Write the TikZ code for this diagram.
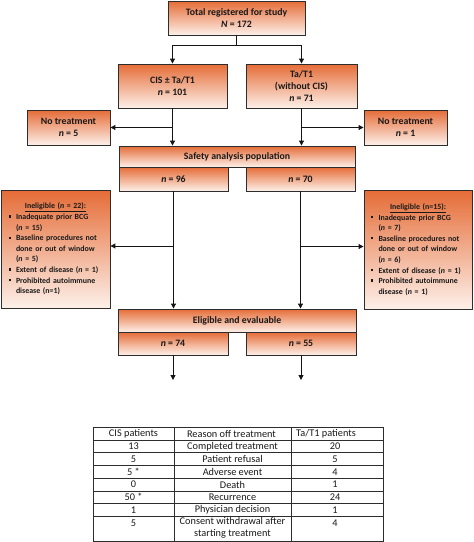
\documentclass[tikz,border=0pt]{standalone}
\usepackage{fontspec}
\setmainfont{Carlito}
\usetikzlibrary{arrows.meta}
\definecolor{boxtop}{RGB}{229,108,55}
\definecolor{boxbot}{RGB}{253,240,233}
\definecolor{edge}{RGB}{45,45,45}
\definecolor{arr}{RGB}{20,20,20}
\definecolor{txt}{RGB}{25,25,25}
\newcommand{\bitem}[1]{\par\hangindent=10pt\hangafter=1\noindent\makebox[10pt][l]{\hspace{2.5pt}\rule[1.8pt]{2.4pt}{2.4pt}}#1}
\tikzset{
  fbox/.style={draw=edge, line width=0.9pt, top color=boxtop, bottom color=boxbot,
    inner sep=0pt, align=center, text=txt, font=\fontsize{9.8}{12}\selectfont\bfseries},
  inelbox/.style={fbox, text width=99pt, align=left, font=\fontsize{7.9}{10.6}\selectfont\bfseries},
  conn/.style={draw=arr, line width=1pt},
  arrowed/.style={conn, -{Triangle[length=5pt,width=5pt]}},
  grid/.style={draw=edge, line width=0.75pt},
  cell/.style={inner sep=0pt, text=txt, font=\fontsize{10.3}{12.6}\selectfont, align=center}
}
\begin{document}
\begin{tikzpicture}[x=1pt,y=-1pt]
\useasboundingbox (0,0) rectangle (474,542);
% boxes
\node[fbox, minimum width=137pt, minimum height=34pt] (total) at (236.5,18) {Total registered for study\\\textit{N} = 172};
\node[fbox, minimum width=109pt, minimum height=44pt] (cis) at (172.5,86) {CIS ± Ta/T1\\\textit{n} = 101};
\node[fbox, minimum width=111pt, minimum height=44pt] (ta) at (301.5,86) {Ta/T1\\(without CIS)\\\textit{n} = 71};
\node[fbox, minimum width=83pt, minimum height=35pt] (notl) at (68.5,127.5) {No treatment\\\textit{n} = 5};
\node[fbox, minimum width=83pt, minimum height=35pt] (notr) at (405.5,127.5) {No treatment\\\textit{n} = 1};
\node[fbox, minimum width=236pt, minimum height=21pt] (safety) at (237,156.5) {Safety analysis population};
\node[fbox, minimum width=109pt, minimum height=24pt] (n96) at (173.5,179) {\textit{n} = 96};
\node[fbox, minimum width=109pt, minimum height=24pt] (n70) at (300.5,179) {\textit{n} = 70};
\node[inelbox, minimum width=109pt, minimum height=118pt] (inell) at (55.5,249) {%
\makebox[\linewidth]{\underline{Ineligible (\textit{n} = 22):}}
\bitem{Inadequate prior BCG\newline(\textit{n} = 15)}
\bitem{Baseline procedures not\newline done or out of window\newline(\textit{n} = 5)}
\bitem{Extent of disease (\textit{n} = 1)}
\bitem{Prohibited autoimmune\newline disease (n=1)}\par\vskip 5pt};
\node[inelbox, minimum width=108pt, minimum height=119pt] (inelr) at (418,249.5) {%
\makebox[\linewidth]{\underline{Ineligible (n=15):}}
\bitem{Inadequate prior BCG\newline(\textit{n} = 7)}
\bitem{Baseline procedures not\newline done or out of window\newline(\textit{n} = 6)}
\bitem{Extent of disease (\textit{n} = 1)}
\bitem{Prohibited autoimmune\newline disease (\textit{n} = 1)}\par\vskip 5pt};
\node[fbox, minimum width=238pt, minimum height=23pt] (elig) at (237,320.5) {Eligible and evaluable};
\node[fbox, minimum width=110pt, minimum height=23pt] (n74) at (173,343.5) {\textit{n} = 74};
\node[fbox, minimum width=110pt, minimum height=23pt] (n55) at (301,343.5) {\textit{n} = 55};
% connectors
\coordinate (jt) at (236.5,45);
\coordinate (e1) at (173,380);
\coordinate (e2) at (301,380);
\coordinate (il) at ([yshift=3pt]inell.east);
\coordinate (ir) at ([yshift=3pt]inelr.west);
\draw[conn] (total.south) -- (jt);
\draw[arrowed] (jt) -| (cis.north);
\draw[arrowed] (jt) -| (ta.north);
\draw[arrowed] (cis.south) -- (cis.south |- safety.north);
\draw[arrowed] (cis.south |- notl.east) -- (notl.east);
\draw[arrowed] (ta.south) -- (ta.south |- safety.north);
\draw[arrowed] (ta.south |- notr.west) -- (notr.west);
\draw[arrowed] (n96.south) -- (n96.south |- elig.north);
\draw[arrowed] (n96.south |- il) -- (il);
\draw[arrowed] (n70.south) -- (n70.south |- elig.north);
\draw[arrowed] (n70.south |- ir) -- (ir);
\draw[arrowed] (n74.south) -- (e1);
\draw[arrowed] (n55.south) -- (e2);
% table
\draw[grid] (93,427) rectangle (383,541.6);
\foreach \yy in {440,452.7,465.5,478.2,491,503.5,516} \draw[grid] (93,\yy) -- (383,\yy);
\draw[grid] (174,427) -- (174,541.6);
\draw[grid] (291,427) -- (291,541.6);
\node[cell] (h1) at (133.5,433.5) {CIS patients};
\node[cell] (h2) at (231.5,433.5) {Reason off treatment};
\node[cell] (h3) at (326,433.5) {Ta/T1 patients};
\node[cell] (a1) at (133.5,446.4) {13};
\node[cell] (a2) at (232.5,446.4) {Completed treatment};
\node[cell] (a3) at (335,446.4) {20};
\node[cell] (b1) at (133.5,459.1) {5};
\node[cell] (b2) at (232.5,459.1) {Patient refusal};
\node[cell] (b3) at (335,459.1) {5};
\node[cell] (c1) at (133.5,471.9) {5 *};
\node[cell] (c2) at (232.5,471.9) {Adverse event};
\node[cell] (c3) at (335,471.9) {4};
\node[cell] (d1) at (133.5,484.6) {0};
\node[cell] (d2) at (232.5,484.6) {Death};
\node[cell] (d3) at (335,484.6) {1};
\node[cell] (f1) at (133.5,497.3) {50 *};
\node[cell] (f2) at (232.5,497.3) {Recurrence};
\node[cell] (f3) at (335,497.3) {24};
\node[cell] (g1) at (133.5,509.8) {1};
\node[cell] (g2) at (232.5,509.8) {Physician decision};
\node[cell] (g3) at (335,509.8) {1};
\node[cell] (k1) at (133.5,523) {5};
\node[cell, anchor=north] (k2) at (232.5,517) {Consent withdrawal after\\starting treatment};
\node[cell] (k3) at (335,523) {4};
\end{tikzpicture}
\end{document}
